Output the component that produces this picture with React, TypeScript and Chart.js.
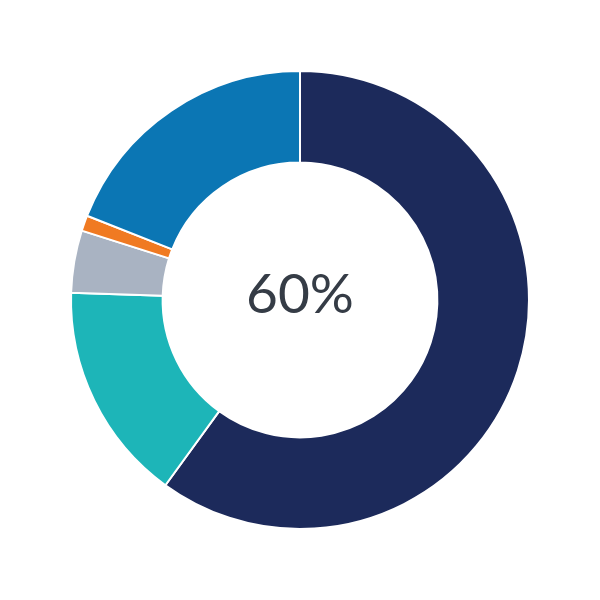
import React, { useEffect, useRef } from "react";
import { Chart, registerables } from "chart.js";

Chart.register(...registerables);

const labels = ["Navy", "Teal", "Grey", "Orange", "Blue"];
const values = [60, 15.5, 4.4, 1.1, 19.0];
const colors = ["#1c2a5b", "#1db5b8", "#a9b3c2", "#f07a22", "#0b76b4"];
const centerLabel = "60%";

export default function App() {
  const ref = useRef<HTMLCanvasElement | null>(null);
  useEffect(() => {
    if (!ref.current) return;
    const chart = new Chart(ref.current, {
      type: "doughnut",
      data: {
        labels,
        datasets: [
          {
            data: values,
            backgroundColor: colors,
            borderColor: "#ffffff",
            borderWidth: 2,
          },
        ],
      },
      options: {
        responsive: false,
        animation: false,
        cutout: "60%",
        layout: { padding: 70 },
        plugins: { legend: { display: false }, tooltip: { enabled: false } },
      },
    });
    return () => chart.destroy();
  }, []);
  return (
    <div style={{ position: "fixed", left: 0, top: 0, width: 600, height: 600, background: "#fff" }}>
      <canvas ref={ref} width={600} height={600} style={{ width: 600, height: 600 }} />
      <div
        style={{
          position: "absolute",
          left: 0,
          top: -8,
          width: 600,
          height: 600,
          display: "flex",
          alignItems: "center",
          justifyContent: "center",
          fontFamily: "Lato, 'Open Sans', sans-serif",
          fontWeight: 400,
          fontSize: 55,
          color: "#353c46",
          pointerEvents: "none",
        }}
      >
        {centerLabel}
      </div>
    </div>
  );
}
